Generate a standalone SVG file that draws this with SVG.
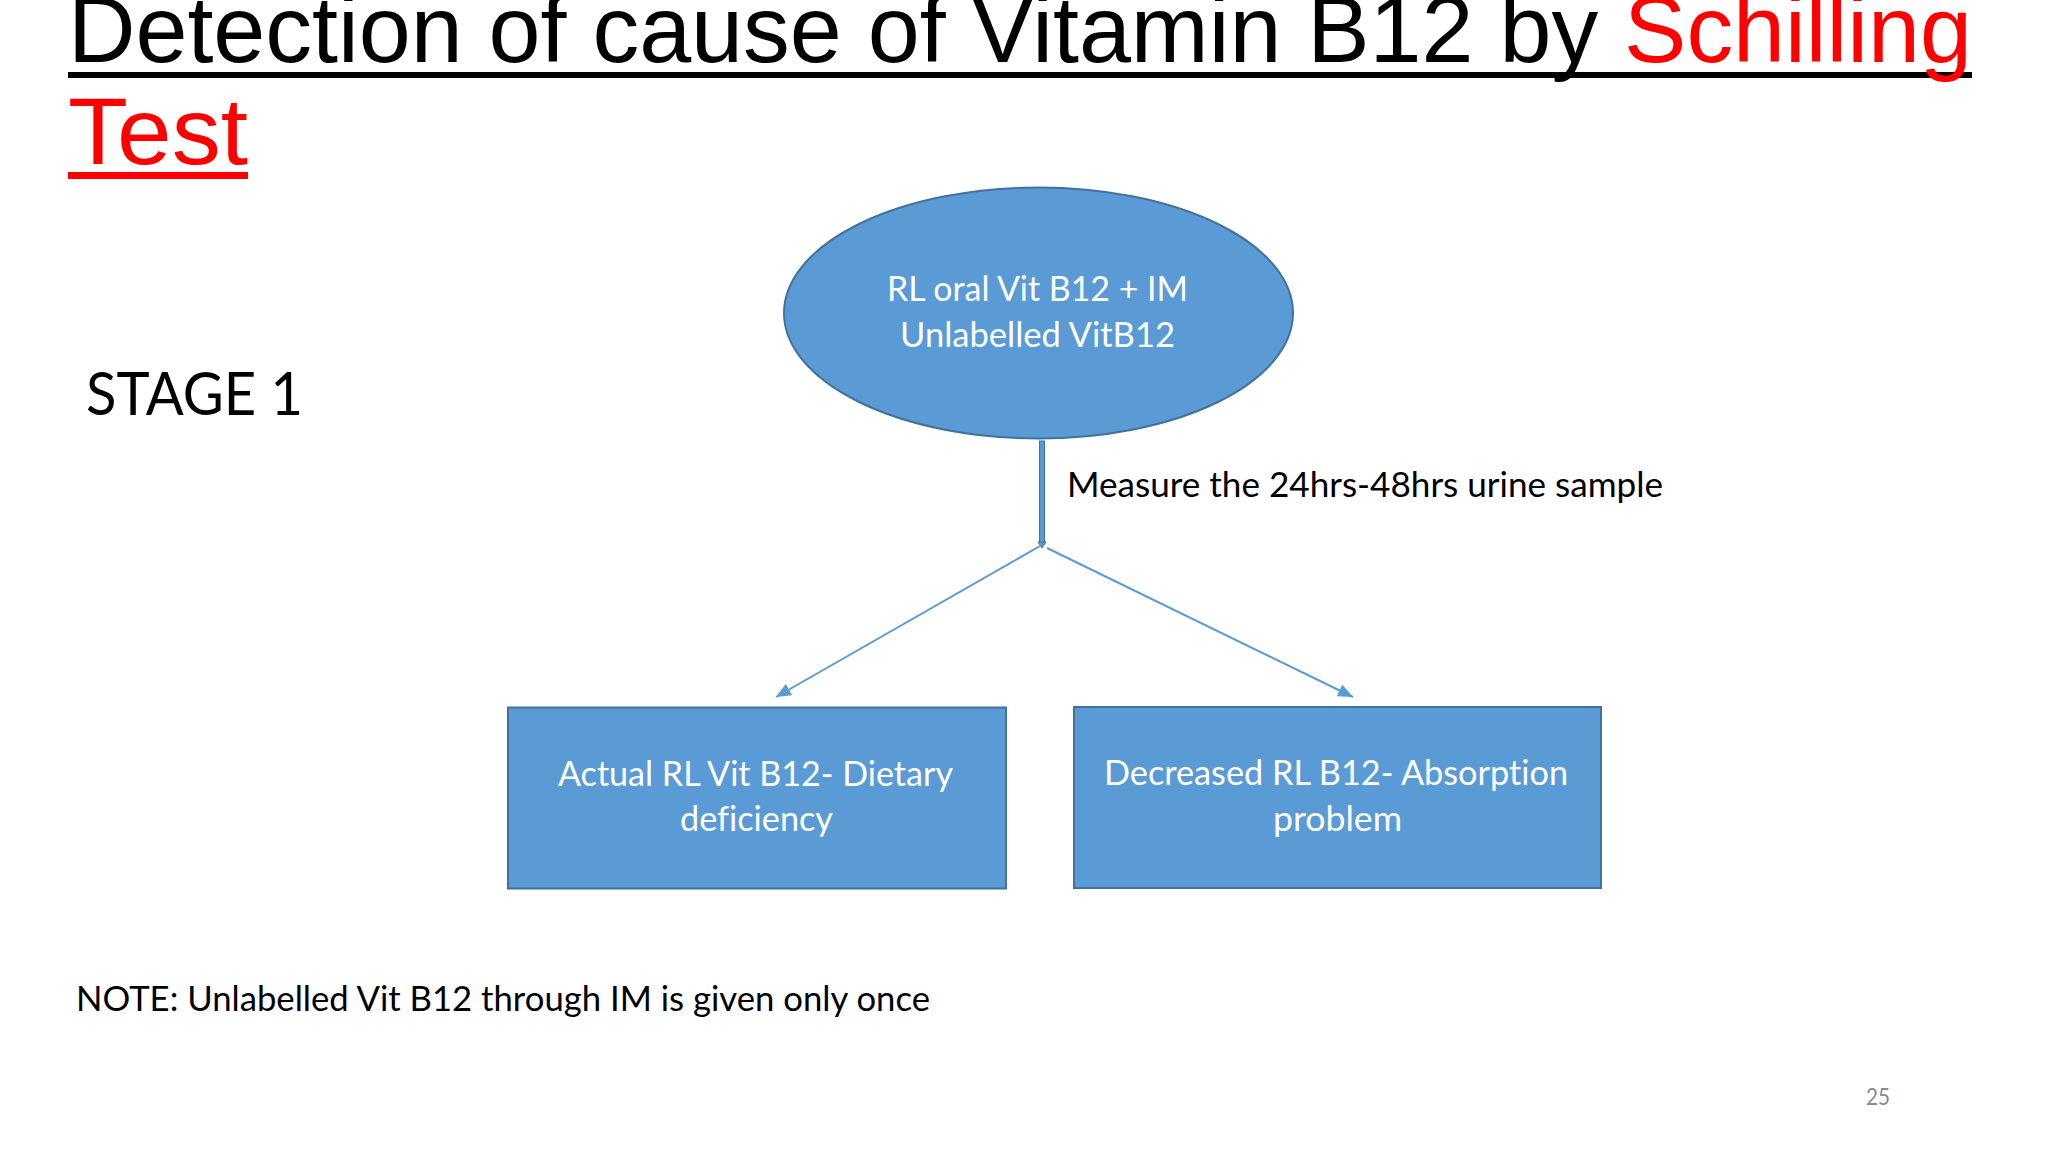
<svg xmlns="http://www.w3.org/2000/svg" width="2048" height="1152" viewBox="0 0 2048 1152">
  <style>
    text { font-variant-ligatures: none; font-feature-settings: "liga" 0; }
    .title { font-family: "Liberation Sans", Arial, sans-serif; font-size: 94px; }
    .body { font-family: Lato, "Open Sans", sans-serif; font-size: 34px; fill: #000000; }
    .inner { font-family: Lato, "Open Sans", sans-serif; font-size: 34px; fill: #FFFFFF; }
    .shape { fill: #5B9BD5; stroke: #41719C; stroke-width: 2; }
    .conn { stroke: #5B9BD5; stroke-width: 2; fill: none; }
  </style>
  <defs>
    <marker id="arrow" markerUnits="userSpaceOnUse" markerWidth="15" markerHeight="13" refX="15" refY="6.5" orient="auto">
      <path d="M0,0 L15,6.5 L0,13 z" fill="#5B9BD5"/>
    </marker>
  </defs>
  <rect width="2048" height="1152" fill="#FFFFFF"/>

  <g id="title">
    <rect x="68" y="72" width="1904" height="6" fill="#000000"/>
    <text class="title" x="68" y="62" textLength="1904" lengthAdjust="spacingAndGlyphs"><tspan fill="#000000">Detection of cause of Vitamin B12 by </tspan><tspan fill="#FF0000">Schilling</tspan></text>
    <rect x="68" y="172" width="180" height="7" fill="#FF0000"/>
    <text class="title" x="68" y="164" fill="#FF0000" textLength="180" lengthAdjust="spacingAndGlyphs">Test</text>
  </g>

  <g id="stage-label">
    <text class="body" x="86" y="415" style="font-size:60px" textLength="217" lengthAdjust="spacingAndGlyphs">STAGE 1</text>
  </g>

  <g id="node-start">
    <ellipse class="shape" cx="1038.5" cy="313" rx="254.5" ry="125.5"/>
    <text class="inner" x="887" y="301" textLength="301" lengthAdjust="spacingAndGlyphs">RL oral Vit B12 + IM</text>
    <text class="inner" x="900" y="347" textLength="275" lengthAdjust="spacingAndGlyphs">Unlabelled VitB12</text>
  </g>

  <g id="connectors">
    <rect x="1039.5" y="441" width="5" height="102" fill="#5B9BD5" stroke="#41719C" stroke-width="1"/>
    <path d="M1038,542 L1046,542 L1042,548 z" fill="#5B9BD5" stroke="#41719C" stroke-width="1"/>
    <line class="conn" x1="1040" y1="546" x2="776" y2="697" marker-end="url(#arrow)"/>
    <line class="conn" x1="1047" y1="548" x2="1353" y2="697" marker-end="url(#arrow)"/>
    <text class="body" x="1067" y="497" textLength="596" lengthAdjust="spacingAndGlyphs">Measure the 24hrs-48hrs urine sample</text>
  </g>

  <g id="node-dietary">
    <rect class="shape" x="508" y="707.5" width="498" height="181"/>
    <text class="inner" x="558" y="786" textLength="395" lengthAdjust="spacingAndGlyphs">Actual RL Vit B12- Dietary</text>
    <text class="inner" x="680" y="831" textLength="153" lengthAdjust="spacingAndGlyphs">deficiency</text>
  </g>

  <g id="node-absorption">
    <rect class="shape" x="1074" y="707" width="527" height="181"/>
    <text class="inner" x="1104" y="785" textLength="464" lengthAdjust="spacingAndGlyphs">Decreased RL B12- Absorption</text>
    <text class="inner" x="1273" y="831" textLength="129" lengthAdjust="spacingAndGlyphs">problem</text>
  </g>

  <g id="note">
    <text class="body" x="76" y="1011" textLength="854" lengthAdjust="spacingAndGlyphs">NOTE: Unlabelled Vit B12 through IM is given only once</text>
  </g>

  <g id="page-number">
    <text x="1866" y="1105" style="font-family: Lato, 'Open Sans', sans-serif; font-size: 24px; fill: #898989;" textLength="24" lengthAdjust="spacingAndGlyphs">25</text>
  </g>
</svg>
